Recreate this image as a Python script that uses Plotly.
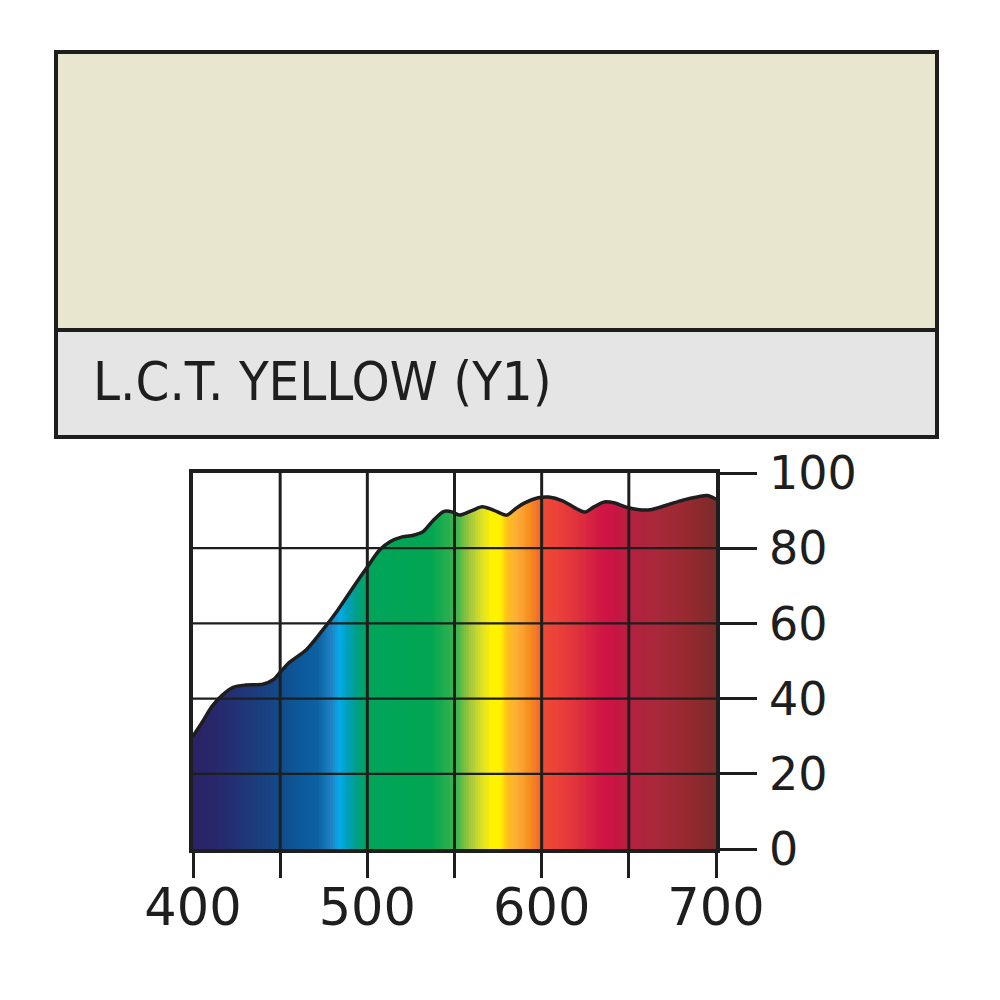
import plotly.graph_objects as go

# ---- data ----
label_text = "L.C.T. YELLOW (Y1)"
wavelength = [400, 405, 411, 417, 423, 430, 440, 446, 450, 455, 465, 474, 483, 492,
              500, 507, 513, 520, 527, 532, 538, 544, 549, 553, 560, 566, 573, 580,
              585, 590, 598, 604, 612, 620, 625, 630, 636, 642, 648, 655, 662, 672,
              681, 690, 695, 700]
transmission = [30, 33.5, 38, 41, 43, 43.6, 43.8, 45, 47, 49.5, 53, 58, 63.5, 69.7,
                75, 79.5, 81.7, 83, 83.5, 84.4, 87.5, 89.8, 89.6, 88.8, 90, 91, 90, 88.8,
                90.5, 92, 93.4, 93.6, 92.6, 90.5, 89.6, 91, 92.3, 92, 91, 90.3, 90.2, 91.5,
                92.8, 93.7, 94, 93]
x_ticks = [400, 450, 500, 550, 600, 650, 700]
x_tick_labels = ["400", "", "500", "", "600", "", "700"]
y_ticks = [0, 20, 40, 60, 80, 100]
y_tick_labels = ["0", "20", "40", "60", "80", "100"]

# spectrum colour stops (wavelength, colour)
spectrum_stops = [
    (400, "#2b2166"), (412, "#28276c"), (425, "#223274"), (440, "#19407f"),
    (450, "#124b8a"), (462, "#0b5a9c"), (472, "#0d62a3"), (480, "#1f86c8"),
    (484, "#00aeef"), (487, "#00a3c9"), (493, "#009e8e"), (499, "#00a55a"),
    (536, "#00a651"), (547, "#2bb04f"), (552, "#45b74a"), (559, "#a5c83b"),
    (565, "#d9de2a"), (571, "#fff200"), (576, "#fff200"), (580, "#fdc11a"),
    (586, "#fbab3a"), (592, "#f7921f"), (598, "#f36f2b"), (601, "#ef4a36"),
    (612, "#e93d3a"), (622, "#de2e3e"), (634, "#cf1644"), (640, "#cc1445"),
    (652, "#b4213f"), (667, "#a8293a"), (684, "#96292f"), (700, "#7a2b2b"),
]

swatch_color = "#e8e6cf"
band_color = "#e5e5e5"
ink = "#1e1e1e"

# ---- figure ----
fig = go.Figure()

lo, hi = spectrum_stops[0][0], spectrum_stops[-1][0]
colorscale = [[(w - lo) / (hi - lo), c] for w, c in spectrum_stops]
grid_x = list(range(lo, hi + 1))
fig.add_trace(go.Heatmap(
    x=grid_x, y=[0, 100], z=[grid_x, grid_x],
    colorscale=colorscale, zmin=lo, zmax=hi, showscale=False, hoverinfo="skip",
))

# white area above the curve
fig.add_trace(go.Scatter(x=wavelength, y=[100] * len(wavelength), mode="lines",
                         line=dict(width=0, color="white", shape="spline"),
                         showlegend=False, hoverinfo="skip"))
fig.add_trace(go.Scatter(x=wavelength, y=transmission, mode="lines",
                         fill="tonexty", fillcolor="white",
                         line=dict(width=0, color="white", shape="spline"),
                         showlegend=False, hoverinfo="skip"))
# the curve itself
fig.add_trace(go.Scatter(x=wavelength, y=transmission, mode="lines",
                         line=dict(width=3.5, color=ink, shape="spline", smoothing=0.8),
                         showlegend=False))

shapes = []
# grid lines on top of the spectrum
for xv in x_ticks[1:-1]:
    shapes.append(dict(type="line", xref="x", yref="y", x0=xv, x1=xv, y0=0, y1=100,
                       line=dict(color=ink, width=3), layer="above"))
for yv in y_ticks[1:-1]:
    shapes.append(dict(type="line", xref="x", yref="y", x0=x_ticks[0], x1=x_ticks[-1],
                       y0=yv, y1=yv, line=dict(color=ink, width=2.2), layer="above"))

# colour swatch and name band
shapes.append(dict(type="rect", xref="paper", yref="paper", x0=0.048, x1=0.929,
                   y0=0.678, y1=0.956, fillcolor=swatch_color,
                   line=dict(color=ink, width=4), layer="above"))
shapes.append(dict(type="rect", xref="paper", yref="paper", x0=0.048, x1=0.929,
                   y0=0.571, y1=0.678, fillcolor=band_color,
                   line=dict(color=ink, width=4), layer="above"))

fig.update_layout(
    width=1000, height=1000, autosize=False,
    margin=dict(l=0, r=0, t=0, b=0, pad=0, autoexpand=False),
    paper_bgcolor="white", plot_bgcolor="white",
    shapes=shapes,
    annotations=[dict(text=label_text, xref="paper", yref="paper", x=0.083, y=0.627,
                      xanchor="left", yanchor="middle", showarrow=False,
                      font=dict(family="DejaVu Sans Condensed, Roboto",
                                size=54, color=ink))],
    xaxis=dict(domain=[0.185, 0.708], range=[400, 700], tickmode="array",
               tickvals=x_ticks, ticktext=x_tick_labels, ticks="outside", ticklen=25,
               tickwidth=3, tickcolor=ink, showgrid=False, zeroline=False,
               showline=True, linewidth=3.5, linecolor=ink, mirror=True,
               automargin=False, ticklabelstandoff=-14,
               tickfont=dict(family="DejaVu Sans", size=51, color=ink)),
    yaxis=dict(domain=[0.159, 0.535], range=[0, 100], side="right",
               tickmode="array", tickvals=y_ticks, ticktext=y_tick_labels,
               ticks="outside", ticklen=37, tickwidth=2.5, tickcolor=ink,
               showgrid=False, zeroline=False, showline=True, linewidth=3.5,
               linecolor=ink, mirror=True, ticklabelstandoff=3, automargin=False,
               tickfont=dict(family="DejaVu Sans", size=46, color=ink)),
)

fig.write_html("out.html")
